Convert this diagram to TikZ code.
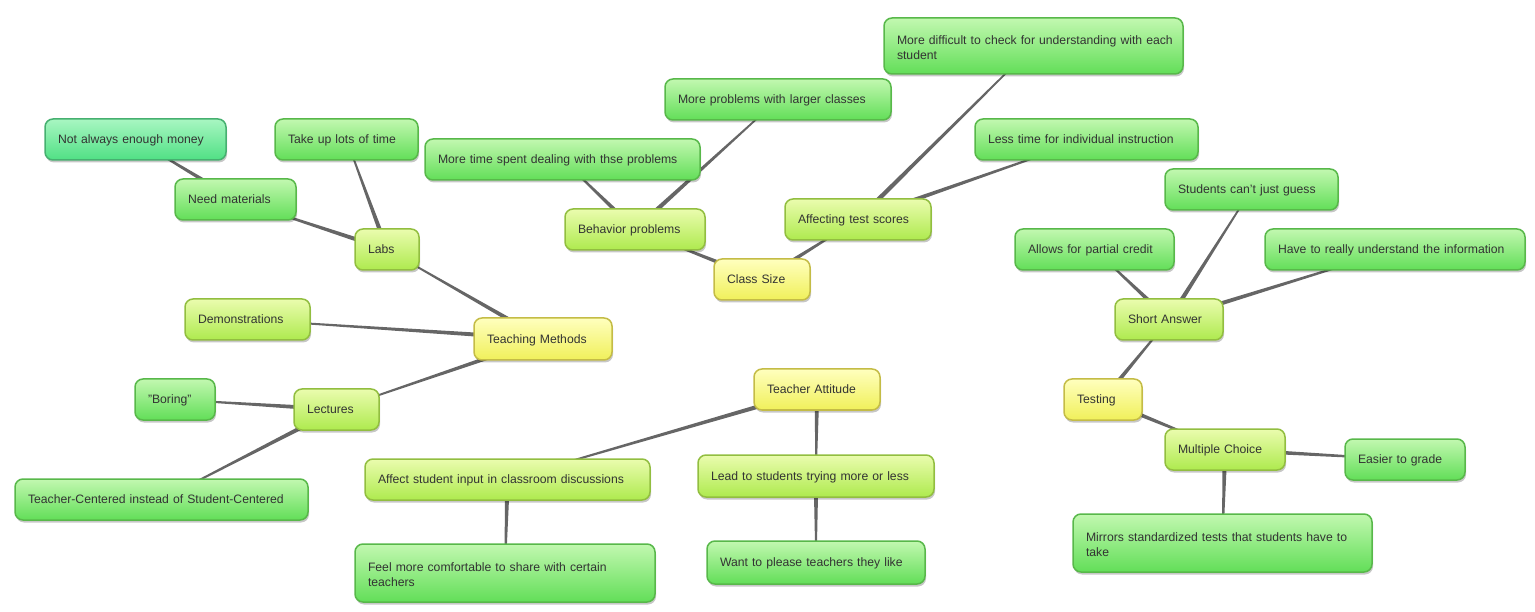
\documentclass[tikz,border=0pt]{standalone}
\usepackage{fontspec}
\setmainfont{Liberation Sans}
\usetikzlibrary{calc,shadows}
\pgfdeclarelayer{bg}
\pgfsetlayers{bg,main}
\definecolor{txtc}{HTML}{333333}
\definecolor{connc}{HTML}{666666}
\definecolor{gT}{HTML}{C2F8B0}
\definecolor{gB}{HTML}{62DE58}
\definecolor{gD}{HTML}{58B84A}
\definecolor{lT}{HTML}{EAFCAE}
\definecolor{lB}{HTML}{AEEA4E}
\definecolor{lD}{HTML}{92BE40}
\definecolor{yT}{HTML}{FFFFBE}
\definecolor{yB}{HTML}{F0F05A}
\definecolor{yD}{HTML}{C4BC46}
\definecolor{tT}{HTML}{A8F6C2}
\definecolor{tB}{HTML}{50E084}
\definecolor{tD}{HTML}{46B070}
\tikzset{
  mbox/.style={rounded corners=8pt, line width=1.5pt, inner xsep=13pt, inner ysep=2pt,
    align=left, font=\fontsize{12.2}{15}\selectfont, text=txtc, text depth=0pt,
    drop shadow={shadow xshift=1pt, shadow yshift=-2.5pt, opacity=0.22, fill=black}},
  gbox/.style={mbox, draw=gD, top color=gT, bottom color=gB},
  lbox/.style={mbox, draw=lD, top color=lT, bottom color=lB},
  ybox/.style={mbox, draw=yD, top color=yT, bottom color=yB},
  tbox/.style={mbox, draw=tD, top color=tT, bottom color=tB},
  two/.style={text depth=11pt},
  sz/.style n args={3}{minimum width=#1pt, minimum height=#2pt, text width=#3pt},
  conn/.style={fill=connc}
}
\newcommand\taper[2]{%
  \fill[conn] ($(#1.center)!2.4pt!90:(#2.center)$) -- ($(#1.center)!2.4pt!-90:(#2.center)$)
   -- ($(#2.center)!0.6pt!90:(#1.center)$) -- ($(#2.center)!0.6pt!-90:(#1.center)$) -- cycle;}
\begin{document}
\begin{tikzpicture}[x=1pt,y=-1pt]
\useasboundingbox (0,0) rectangle (1535,612);
% Teaching Methods branch
\node[tbox, sz={181}{41}{155}] (notmoney) at (135.5,139.5) {Not always enough money};
\node[gbox, sz={143}{41}{117}] (takeup) at (346.5,139.5) {Take up lots of time};
\node[gbox, sz={121}{41}{95}] (needmat) at (235.5,199.5) {Need materials};
\node[lbox, sz={64}{41}{38}] (labs) at (387,249.5) {Labs};
\node[lbox, sz={125}{41}{99}] (demo) at (247.5,319.5) {Demonstrations};
\node[ybox, sz={138}{42}{112}] (tm) at (543,339) {Teaching Methods};
\node[lbox, sz={85}{41}{59}] (lect) at (336.5,409.5) {Lectures};
\node[gbox, sz={80}{41}{54}] (boring) at (175,399.5) {\symbol{34}Boring\symbol{34}};
\node[gbox, sz={293}{41}{267}] (tcent) at (161.5,499.5) {Teacher-Centered instead of Student-Centered};
% Class Size branch
\node[gbox, sz={275}{41}{249}] (moretime) at (562.5,159.5) {More time spent dealing with thse problems};
\node[gbox, sz={226}{41}{200}] (moreprob) at (778,99.5) {More problems with larger classes};
\node[lbox, sz={140}{41}{114}] (behav) at (635,229.5) {Behavior problems};
\node[ybox, sz={96}{41}{70}] (cs) at (762,279.5) {Class Size};
\node[lbox, sz={146}{41}{120}] (affect) at (858,219.5) {Affecting test scores};
\node[gbox, two, sz={299}{56}{273}] (morediff) at (1033.5,46) {\mbox{More difficult to check for understanding with each}\\\mbox{student}};
\node[gbox, sz={223}{41}{197}] (lesstime) at (1086.5,139.5) {Less time for individual instruction};
% Testing branch
\node[gbox, sz={173}{41}{147}] (guess) at (1251.5,189.5) {Students can\symbol{39}t just guess};
\node[gbox, sz={159}{41}{133}] (partial) at (1094.5,249.5) {Allows for partial credit};
\node[gbox, sz={260}{41}{234}] (really) at (1395,249.5) {Have to really understand the information};
\node[lbox, sz={108}{41}{82}] (short) at (1169,319.5) {Short Answer};
\node[ybox, sz={78}{41}{52}] (testing) at (1103,399.5) {Testing};
\node[lbox, sz={120}{41}{94}] (mc) at (1225,449.5) {Multiple Choice};
\node[gbox, sz={120}{41}{94}] (easier) at (1405,459.5) {Easier to grade};
\node[gbox, two, sz={299}{58}{273}] (mirrors) at (1222.5,543) {\mbox{Mirrors standardized tests that students have to}\\\mbox{take}};
% Teacher Attitude branch
\node[ybox, sz={126}{41}{100}] (ta) at (817,389.5) {Teacher Attitude};
\node[lbox, sz={236}{42}{210}] (lead) at (816,476) {Lead to students trying more or less};
\node[gbox, sz={218}{43}{192}] (want) at (816,562.5) {Want to please teachers they like};
\node[lbox, sz={285}{41}{259}] (input) at (507.5,479.5) {Affect student input in classroom discussions};
\node[gbox, two, sz={300}{58}{274}] (feel) at (505,573) {\mbox{Feel more comfortable to share with certain}\\\mbox{teachers}};
\begin{pgfonlayer}{bg}
\taper{tm}{labs}
\taper{tm}{demo}
\taper{tm}{lect}
\taper{labs}{needmat}
\taper{labs}{takeup}
\taper{needmat}{notmoney}
\taper{lect}{boring}
\taper{lect}{tcent}
\taper{cs}{behav}
\taper{behav}{moretime}
\taper{behav}{moreprob}
\taper{cs}{affect}
\taper{affect}{morediff}
\taper{affect}{lesstime}
\taper{testing}{short}
\taper{short}{partial}
\taper{short}{guess}
\taper{short}{really}
\taper{testing}{mc}
\taper{mc}{easier}
\taper{mc}{mirrors}
\taper{ta}{input}
\taper{input}{feel}
\taper{ta}{lead}
\taper{lead}{want}
\end{pgfonlayer}
\end{tikzpicture}
\end{document}
